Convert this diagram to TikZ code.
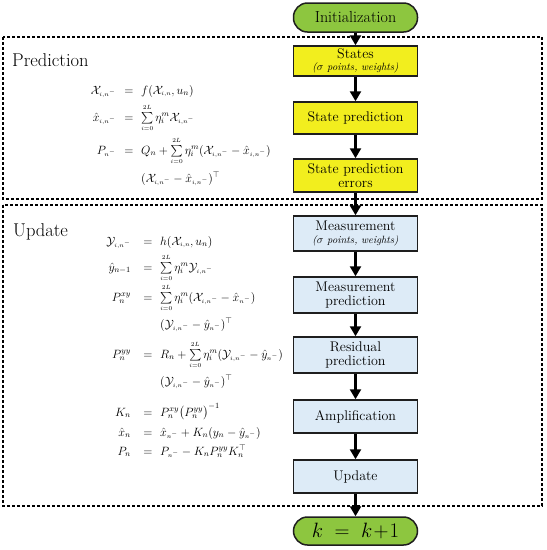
\documentclass[tikz,border=0pt]{standalone}
\usepackage{amsmath,amssymb}
\usetikzlibrary{arrows.meta}
\definecolor{pillgreen}{RGB}{141,198,63}
\definecolor{predyellow}{RGB}{242,238,30}
\definecolor{updblue}{RGB}{221,235,247}
\definecolor{edgecol}{RGB}{30,30,30}
\tikzset{
  box/.style={draw=edgecol, line width=1.5pt, minimum width=124pt, inner sep=0pt, align=center, font=\fontsize{14}{14.5}\selectfont},
  predbox/.style={box, fill=predyellow},
  updbox/.style={box, fill=updblue},
  pill/.style={box, fill=pillgreen, rounded corners=14pt},
  flow/.style={line width=2.4pt, -{Triangle[length=10pt,width=11pt]}},
  frame/.style={line width=1.1pt, dash pattern=on 3pt off 2pt},
  lhs/.style={anchor=base east, inner sep=0pt, font=\fontsize{11.5}{13}\selectfont},
  rhs/.style={anchor=base west, inner sep=0pt, font=\fontsize{11.5}{13}\selectfont},
  eqs/.style={anchor=base, inner sep=0pt, font=\fontsize{11.5}{13}\selectfont},
  seclabel/.style={anchor=base west, inner sep=0pt, font=\fontsize{18.5}{20}\selectfont}
}
\newcommand{\subfnt}{\fontsize{10.5}{12}\selectfont\itshape}
\newcommand{\Xc}{\mathcal{X}}
\newcommand{\Yc}{\mathcal{Y}}
\newcommand{\inm}{{\scriptscriptstyle i,n^-}}
\newcommand{\nm}{{\scriptscriptstyle n^-}}
\newcommand{\sumL}{\sum\limits_{\scriptscriptstyle i=0}^{\scriptscriptstyle 2L}}
\begin{document}
\begin{tikzpicture}[x=1pt,y=-1pt]
\useasboundingbox (0,0) rectangle (547,550);
% dashed frames
\coordinate (f1a) at (3,37);
\coordinate (f1b) at (542,199);
\coordinate (f2a) at (3,205);
\coordinate (f2b) at (542,506);
\draw[frame] (f1a) rectangle (f1b);
\draw[frame] (f2a) rectangle (f2b);

% flow nodes
\node[pill, minimum height=29pt, font=\fontsize{16}{17}\selectfont] (init) at (355.5,17.5) {Initialization};
\node[predbox, minimum height=30pt] (states) at (355.5,61) {States\\[-2pt]{\subfnt ($\sigma$ points, weights)}};
\node[predbox, minimum height=32pt] (spred) at (355.5,118) {State prediction};
\node[predbox, minimum height=33pt] (serr) at (355.5,175.5) {State prediction\\errors};
\node[updbox, minimum height=35pt] (meas) at (355.5,233.5) {Measurement\\[-2pt]{\subfnt ($\sigma$ points, weights)}};
\node[updbox, minimum height=36pt] (mpred) at (355.5,295) {Measurement\\prediction};
\node[updbox, minimum height=36pt] (rpred) at (355.5,355) {Residual\\prediction};
\node[updbox, minimum height=33pt] (amp) at (355.5,416.5) {Amplification};
\node[updbox, minimum height=33pt] (upd) at (355.5,476.5) {Update};
\node[pill, minimum height=28pt, font=\fontsize{20}{22}\selectfont] (kinc) at (355.5,531) {$k\;=\;k\!+\!1$};

\draw[flow] (init) -- (states);
\draw[flow] (states) -- (spred);
\draw[flow] (spred) -- (serr);
\draw[flow] (serr) -- (meas);
\draw[flow] (meas) -- (mpred);
\draw[flow] (mpred) -- (rpred);
\draw[flow] (rpred) -- (amp);
\draw[flow] (amp) -- (upd);
\draw[flow] (upd) -- (kinc);

% section labels
\node[seclabel] (lpred) at (12,66) {Prediction};
\node[seclabel] (lupd) at (13,236) {Update};

% prediction equations
\node[lhs] (p1l) at (116,94) {$\Xc_\inm$};
\node[eqs] (p1e) at (129,94) {$=$};
\node[rhs] (p1r) at (141,94) {$f(\Xc_{\scriptscriptstyle i,n},u_n)$};
\node[lhs] (p2l) at (116,121) {$\hat{x}_\inm$};
\node[eqs] (p2e) at (129,121) {$=$};
\node[rhs] (p2r) at (141,121) {$\sumL\eta_i^m\Xc_\inm$};
\node[lhs] (p3l) at (116,154) {$P_\nm$};
\node[eqs] (p3e) at (129,154) {$=$};
\node[rhs] (p3r) at (141,154) {$Q_n+\sumL\eta_i^m(\Xc_\inm-\hat{x}_\inm)$};
\node[rhs] (p4r) at (141,182) {$(\Xc_\inm-\hat{x}_\inm)^{\top}$};

% update equations
\node[lhs] (u1l) at (131,245) {$\Yc_\inm$};
\node[eqs] (u1e) at (148,245) {$=$};
\node[rhs] (u1r) at (160,245) {$h(\Xc_{\scriptscriptstyle i,n},u_n)$};
\node[lhs] (u2l) at (131,271) {$\hat{y}_{n-1}$};
\node[eqs] (u2e) at (148,271) {$=$};
\node[rhs] (u2r) at (160,271) {$\sumL\eta_i^m\Yc_\inm$};
\node[lhs] (u3l) at (131,301) {$P_n^{xy}$};
\node[eqs] (u3e) at (148,301) {$=$};
\node[rhs] (u3r) at (160,301) {$\sumL\eta_i^m(\Xc_\inm-\hat{x}_\nm)$};
\node[rhs] (u4r) at (160,328) {$(\Yc_\inm-\hat{y}_\nm)^{\top}$};
\node[lhs] (u5l) at (131,358) {$P_n^{yy}$};
\node[eqs] (u5e) at (148,358) {$=$};
\node[rhs] (u5r) at (160,358) {$R_n+\sumL\eta_i^m(\Yc_\inm-\hat{y}_\nm)$};
\node[rhs] (u6r) at (160,385) {$(\Yc_\inm-\hat{y}_\nm)^{\top}$};
\node[lhs] (u7l) at (131,416) {$K_n$};
\node[eqs] (u7e) at (148,416) {$=$};
\node[rhs] (u7r) at (160,416) {$P_n^{xy}\bigl(P_n^{yy}\bigr)^{-1}$};
\node[lhs] (u8l) at (131,436) {$\hat{x}_n$};
\node[eqs] (u8e) at (148,436) {$=$};
\node[rhs] (u8r) at (160,436) {$\hat{x}_\nm+K_n(y_n-\hat{y}_\nm)$};
\node[lhs] (u9l) at (131,455) {$P_n$};
\node[eqs] (u9e) at (148,455) {$=$};
\node[rhs] (u9r) at (160,455) {$P_\nm-K_nP_n^{yy}K_n^{\top}$};
\end{tikzpicture}
\end{document}
